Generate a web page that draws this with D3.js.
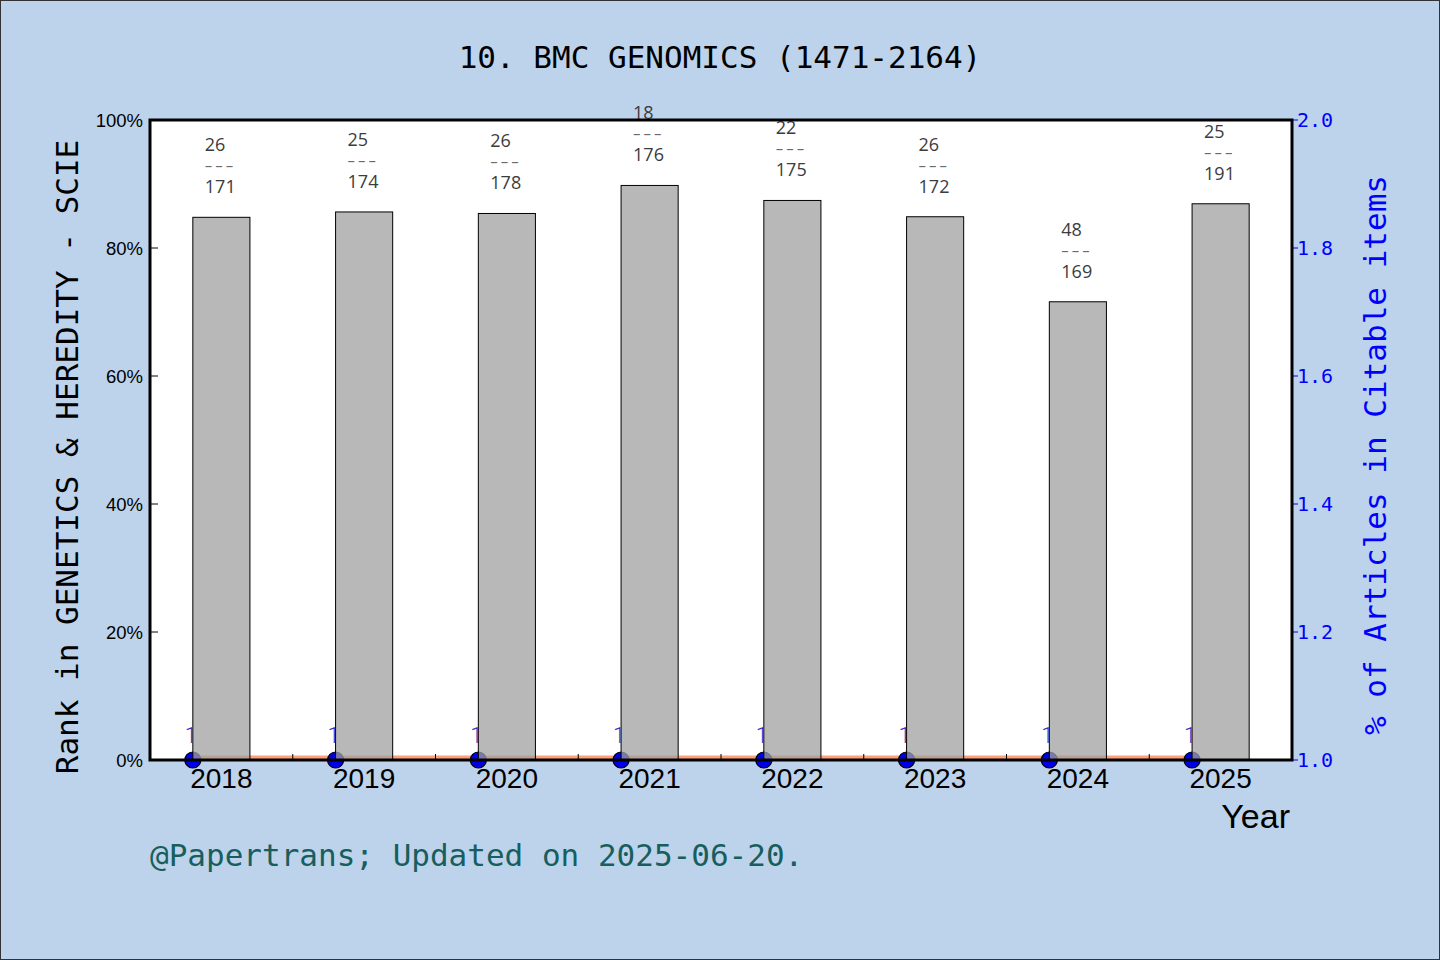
<!DOCTYPE html>
<html><head><meta charset="utf-8">
<script src="https://cdn.jsdelivr.net/npm/d3@7"></script>
<style>body{margin:0;background:#bdd3eb;} svg{display:block;}</style>
</head><body>
<svg id="chart" width="1440" height="960"></svg>
<script>
const years = ["2018","2019","2020","2021","2022","2023","2024","2025"];
const ranks = [26,25,26,18,22,26,48,25];
const totals = [171,174,178,176,175,172,169,191];
const citablePct = [1,1,1,1,1,1,1,1];
const leftTicks = [0,20,40,60,80,100];
const rightTicks = [1.0,1.2,1.4,1.6,1.8,2.0];
const title = "10. BMC GENOMICS (1471-2164)";
const yLabel = "Rank in GENETICS & HEREDITY - SCIE";
const y2Label = "% of Articles in Citable items";
const footer = "@Papertrans; Updated on 2025-06-20.";

const mono = "'DejaVu Sans Mono', monospace";
const sans = "'Liberation Sans', Arial, sans-serif";
const svg = d3.select("#chart");
const L=150,R=1292,T=120,B=760;

svg.append("rect").attr("x",0.5).attr("y",0.5).attr("width",1439).attr("height",959)
  .attr("fill","#bdd3eb").attr("stroke","#333").attr("stroke-width",1);
svg.append("rect").attr("x",L).attr("y",T).attr("width",R-L).attr("height",B-T).attr("fill","#fff");

const x = d3.scaleLinear().domain([-0.3,7.7]).range([L,R]);
const y = d3.scaleLinear().domain([0,100]).range([B,T]);
const y2 = d3.scaleLinear().domain([1,2]).range([B,T]);
const idx = years.map((d,i)=>i);
const pct = idx.map(i => (1 - ranks[i]/totals[i])*100);

// orange line
svg.append("path").datum(idx)
  .attr("d", d3.line().x(i=>x(i)).y(i=>y2(citablePct[i])-2.5))
  .attr("fill","none").attr("stroke","#ffa07a").attr("stroke-width",4);

// dots
svg.selectAll("circle.dot").data(idx).join("circle")
  .attr("cx",i=>x(i)).attr("cy",i=>y2(citablePct[i])).attr("r",8)
  .attr("fill","#0000e6").attr("stroke","#000").attr("stroke-width",1.2);

// bars
svg.selectAll("rect.bar").data(idx).join("rect")
  .attr("x",i=>x(i)).attr("width",x(0.4)-x(0))
  .attr("y",i=>y(pct[i])).attr("height",i=>B-y(pct[i]))
  .attr("fill","#a0a0a0").attr("fill-opacity",0.75)
  .attr("stroke","#000").attr("stroke-width",1);

// "1" labels
svg.selectAll("text.one").data(idx).join("text")
  .attr("x",i=>x(i)-2).attr("y",i=>y2(citablePct[i])-17)
  .attr("text-anchor","middle").attr("font-family","Roboto, sans-serif").attr("font-weight",300)
  .attr("font-size",22).attr("fill","#3535c8").text(i=>d3.format("d")(citablePct[i]));

// bar labels
const lab = svg.selectAll("g.lab").data(idx).join("g")
  .attr("font-family","'Open Sans', sans-serif").attr("font-size",18).attr("fill","#3c3c3c")
  .attr("text-anchor","start");
lab.append("text").attr("x",i=>x(i)+12).attr("y",i=>y(pct[i])-66).text(i=>ranks[i]);
lab.append("text").attr("x",i=>x(i)+12).attr("y",i=>y(pct[i])-46)
  .attr("font-family","'DejaVu Sans', sans-serif").attr("font-size",15).attr("letter-spacing",3)
  .attr("fill","#6a6a6a").text("\u2013\u2013\u2013");
lab.append("text").attr("x",i=>x(i)+12).attr("y",i=>y(pct[i])-24).text(i=>totals[i]);

// minor x ticks
svg.selectAll("line.xt").data(idx).join("line")
  .attr("x1",i=>x(i+0.7)).attr("x2",i=>x(i+0.7)).attr("y1",B).attr("y2",B-6)
  .attr("stroke","#000").attr("stroke-width",1);

// left axis ticks
svg.selectAll("line.lt").data(leftTicks).join("line")
  .attr("x1",L).attr("x2",L+8).attr("y1",d=>y(d)).attr("y2",d=>y(d)).attr("stroke","#000");
svg.selectAll("text.lt").data(leftTicks).join("text")
  .attr("x",L-7).attr("y",d=>y(d)+7).attr("text-anchor","end")
  .attr("font-family",sans).attr("font-size",18.5).attr("fill","#000").text(d=>d+"%");

// right axis ticks
svg.selectAll("line.rt").data(rightTicks).join("line")
  .attr("x1",R).attr("x2",R+6).attr("y1",d=>y2(d)).attr("y2",d=>y2(d)).attr("stroke","#0000ff");
svg.selectAll("text.rt").data(rightTicks).join("text")
  .attr("x",R+5).attr("y",d=>y2(d)+7).attr("text-anchor","start")
  .attr("font-family",mono).attr("font-size",20).attr("fill","#0000ff").text(d=>d3.format(".1f")(d));

// frame
svg.append("rect").attr("x",L).attr("y",T).attr("width",R-L).attr("height",B-T)
  .attr("fill","none").attr("stroke","#000").attr("stroke-width",3);

// x tick labels
svg.selectAll("text.xl").data(idx).join("text")
  .attr("x",i=>x(i+0.2)).attr("y",B+28).attr("text-anchor","middle")
  .attr("font-family",sans).attr("font-size",28).attr("fill","#000").text(i=>years[i]);

svg.append("text").attr("x",R-2).attr("y",828).attr("text-anchor","end")
  .attr("font-family",sans).attr("font-size",34).attr("fill","#000").text("Year");

svg.append("text").attr("x",720).attr("y",68).attr("text-anchor","middle")
  .attr("font-family",mono).attr("font-size",31).attr("fill","#000").text(title);

svg.append("text").attr("transform","translate(78,457) rotate(-90)").attr("text-anchor","middle")
  .attr("font-family",mono).attr("font-size",31).attr("fill","#000").text(yLabel);

svg.append("text").attr("transform","translate(1386,455) rotate(-90)").attr("text-anchor","middle")
  .attr("font-family",mono).attr("font-size",31).attr("fill","#0000ff").text(y2Label);

svg.append("text").attr("x",150).attr("y",866).attr("text-anchor","start")
  .attr("font-family",mono).attr("font-size",31).attr("fill","#175e5c").text(footer);
</script>
</body></html>
